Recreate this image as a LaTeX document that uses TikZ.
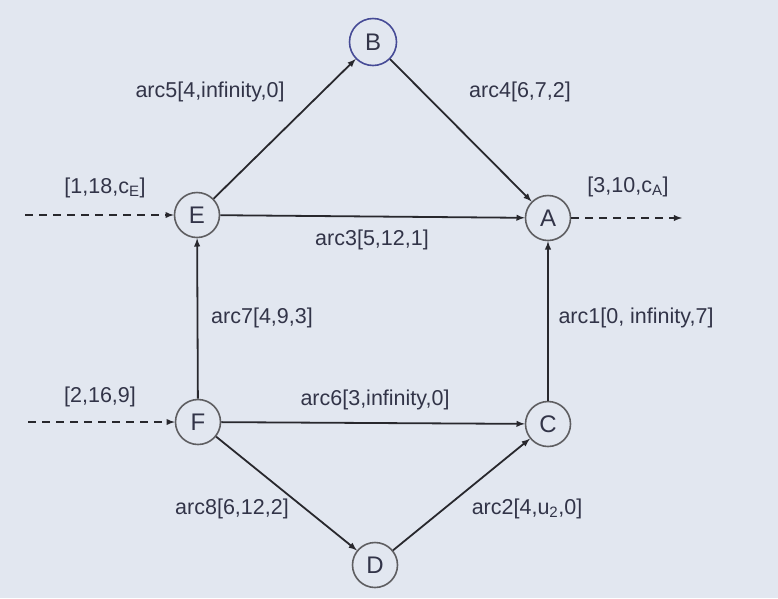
\documentclass[tikz,border=0pt]{standalone}
\usepackage{fontspec}
\setmainfont{Liberation Sans}
\definecolor{bgpaper}{RGB}{226,231,240}
\definecolor{inkline}{RGB}{40,40,45}
\definecolor{inktext}{RGB}{50,52,72}
\definecolor{ringblue}{RGB}{70,75,150}

\begin{document}
\begin{tikzpicture}
[every node/.style={inner sep=0pt}, >=latex]
\fill [bgpaper] (0pt, 0pt) rectangle (778pt, -598pt);
\useasboundingbox (0pt, 0pt) rectangle (778pt, -598pt);
\node (B) [circle, minimum size=47pt, fill=bgpaper, line width=1.6pt, draw=ringblue] at (373.0pt, -42.0pt) {\fontsize{24}{26}\selectfont\textcolor{inktext}{B}};
\node (E) [circle, minimum size=45pt, fill=bgpaper, line width=1.6pt, draw=inkline!75] at (197.0pt, -215.0pt) {\fontsize{24}{26}\selectfont\textcolor{inktext}{E}};
\node (A) [circle, minimum size=45pt, fill=bgpaper, line width=1.6pt, draw=inkline!75] at (548.0pt, -218.0pt) {\fontsize{24}{26}\selectfont\textcolor{inktext}{A}};
\node (F) [circle, minimum size=45pt, fill=bgpaper, line width=1.6pt, draw=inkline!75] at (198.0pt, -422.0pt) {\fontsize{24}{26}\selectfont\textcolor{inktext}{F}};
\node (C) [circle, minimum size=45pt, fill=bgpaper, line width=1.6pt, draw=inkline!75] at (548.0pt, -424.0pt) {\fontsize{24}{26}\selectfont\textcolor{inktext}{C}};
\node (D) [circle, minimum size=45pt, fill=bgpaper, line width=1.6pt, draw=inkline!75] at (375.0pt, -565.0pt) {\fontsize{24}{26}\selectfont\textcolor{inktext}{D}};
\coordinate (inE) at (25.0pt, -215.0pt);
\coordinate (inF) at (28.0pt, -422.0pt);
\coordinate (outA) at (682.0pt, -218.0pt);
\node (l5) at (210.0pt, -92.0pt) {\fontsize{21.5}{24}\selectfont\textcolor{inktext}{arc5[4,infinity,0]}};
\node (l4) at (520.0pt, -92.0pt) {\fontsize{21.5}{24}\selectfont\textcolor{inktext}{arc4[6,7,2]}};
\node (lE) at (105.0pt, -188.0pt) {\fontsize{21.5}{24}\selectfont\textcolor{inktext}{[1,18,c\textsubscript{E}]}};
\node (lA) at (628.0pt, -187.0pt) {\fontsize{21.5}{24}\selectfont\textcolor{inktext}{[3,10,c\textsubscript{A}]}};
\node (l3) at (372.0pt, -240.0pt) {\fontsize{21.5}{24}\selectfont\textcolor{inktext}{arc3[5,12,1]}};
\node (l7) at (262.0pt, -318.0pt) {\fontsize{21.5}{24}\selectfont\textcolor{inktext}{arc7[4,9,3]}};
\node (l1) at (636.0pt, -318.0pt) {\fontsize{21.5}{24}\selectfont\textcolor{inktext}{arc1[0, infinity,7]}};
\node (lF) at (100.0pt, -397.0pt) {\fontsize{21.5}{24}\selectfont\textcolor{inktext}{[2,16,9]}};
\node (l6) at (375.0pt, -400.0pt) {\fontsize{21.5}{24}\selectfont\textcolor{inktext}{arc6[3,infinity,0]}};
\node (l8) at (232.0pt, -509.0pt) {\fontsize{21.5}{24}\selectfont\textcolor{inktext}{arc8[6,12,2]}};
\node (l2) at (527.0pt, -509.0pt) {\fontsize{21.5}{24}\selectfont\textcolor{inktext}{arc2[4,u\textsubscript{2},0]}};
\draw [line width=1.8pt, ->, color=inkline] (E) to (B);
\draw [line width=1.8pt, ->, color=inkline] (B) to (A);
\draw [line width=1.8pt, ->, color=inkline] (E) to (A);
\draw [line width=1.8pt, ->, color=inkline] (F) to (E);
\draw [line width=1.8pt, ->, color=inkline] (F) to (C);
\draw [line width=1.8pt, ->, color=inkline] (C) to (A);
\draw [line width=1.8pt, ->, color=inkline] (F) to (D);
\draw [line width=1.8pt, ->, color=inkline] (D) to (C);
\draw [line width=1.8pt, ->, color=inkline, dash pattern=on 8pt off 6pt] (inE) to (E);
\draw [line width=1.8pt, ->, color=inkline, dash pattern=on 8pt off 6pt] (inF) to (F);
\draw [line width=1.8pt, ->, color=inkline, dash pattern=on 8pt off 6pt] (A) to (outA);
\end{tikzpicture}
\end{document}
